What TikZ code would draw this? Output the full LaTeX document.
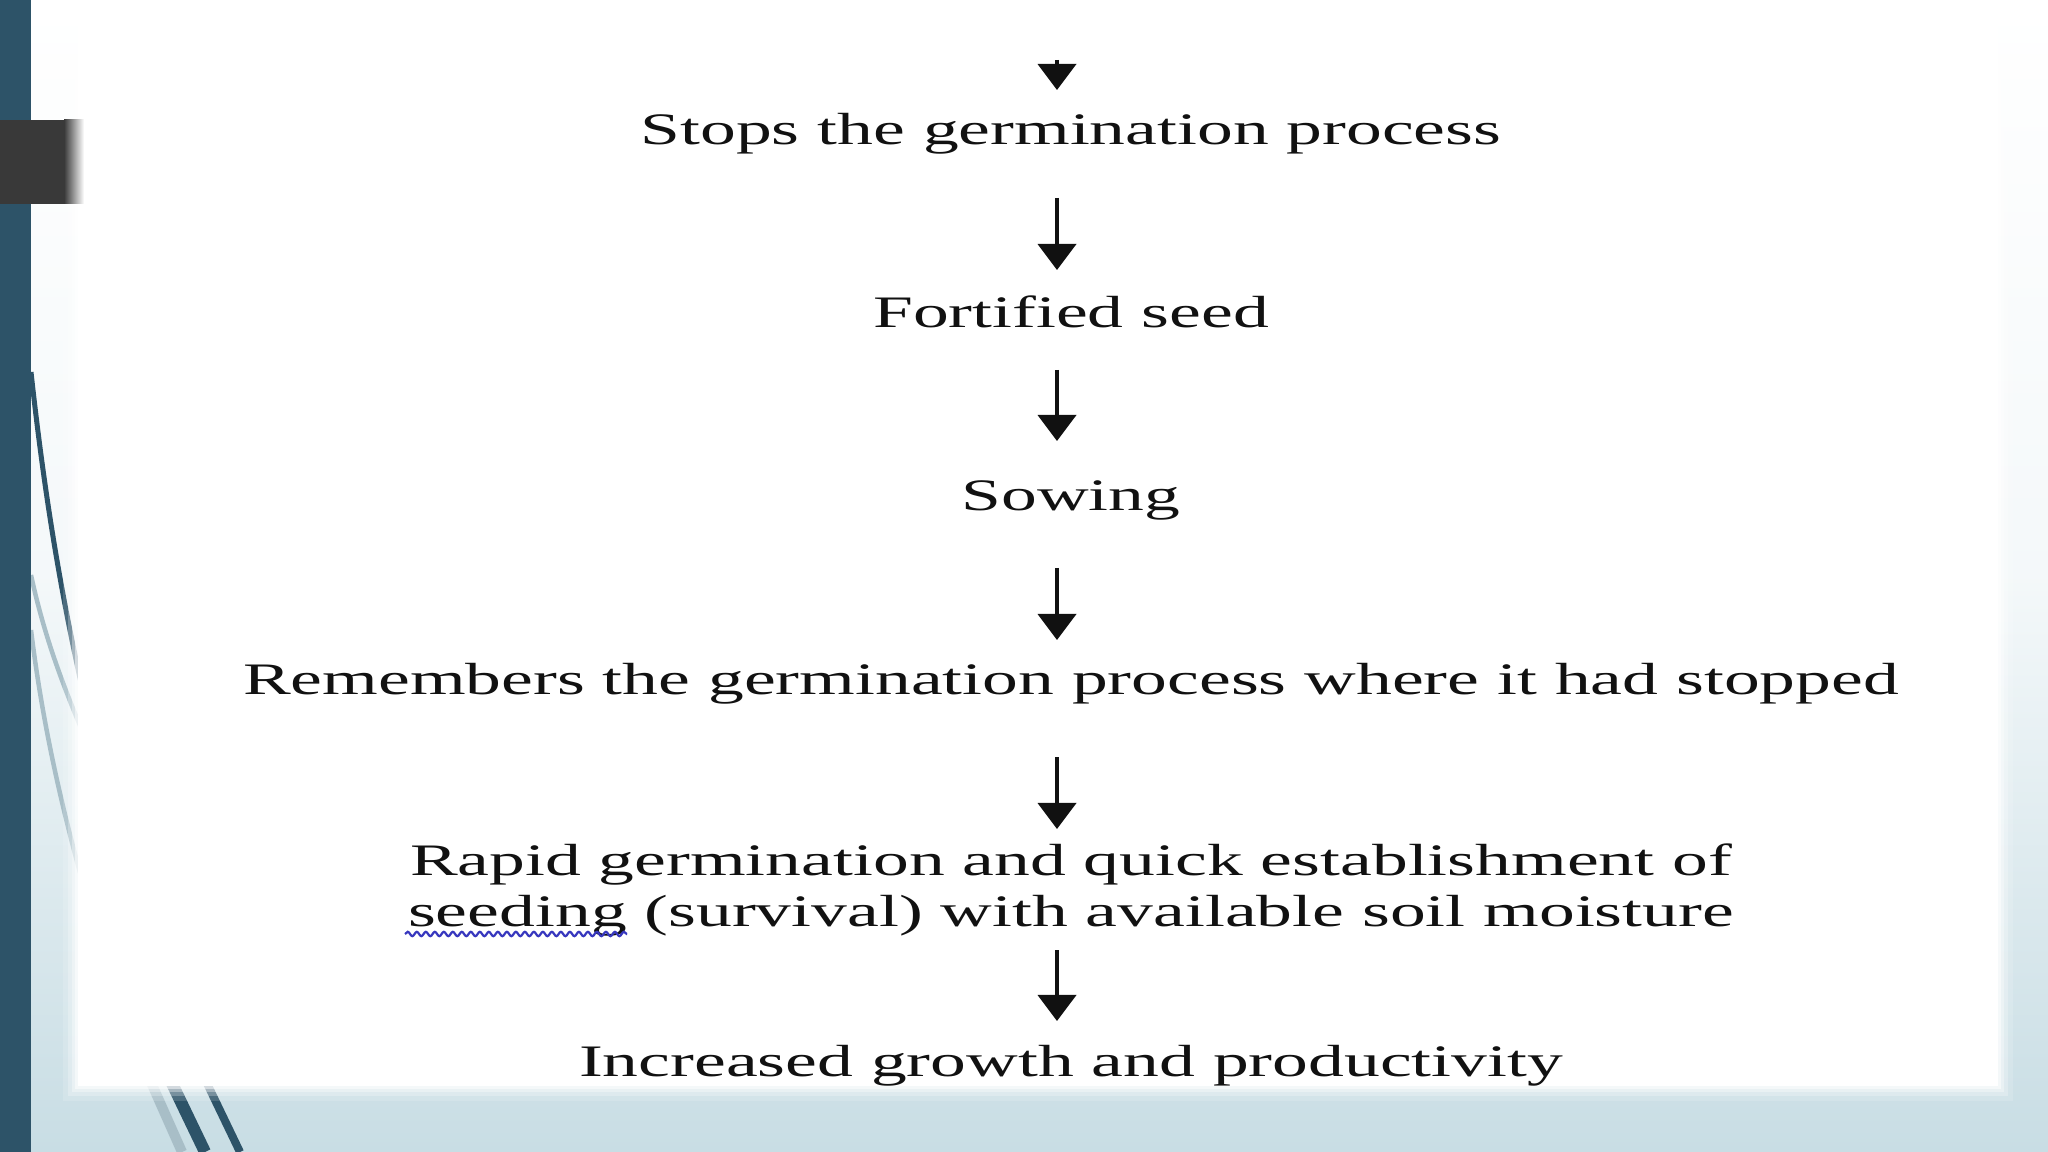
\documentclass[tikz,border=0pt]{standalone}
\usepackage{fontspec}
\setmainfont{Liberation Serif}
\usetikzlibrary{arrows.meta,calc,decorations.pathmorphing}
\definecolor{barblue}{RGB}{45,83,104}
\definecolor{bgblue}{RGB}{200,221,228}
\definecolor{darksq}{RGB}{57,57,57}
\definecolor{grayline}{RGB}{168,190,199}
\definecolor{inkc}{RGB}{17,17,17}
\definecolor{wavyblue}{RGB}{55,55,190}
\newcommand{\stretchtext}[1]{\scalebox{1.59}[1]{#1}}
\begin{document}
\begin{tikzpicture}[x=0.01cm,y=-0.01cm,
  lbl/.style={inner sep=0pt, anchor=base, text=inkc, font=\fontsize{12.8}{14.74}\selectfont},
  arr/.style={draw=inkc, line width=0.04cm, -{Triangle[width=0.38cm,length=0.26cm]}},
  darkcurve/.style={draw=barblue, line width=0.05cm},
  graycurve/.style={draw=grayline, line width=0.045cm}]
\useasboundingbox (0,0) rectangle (2048,1152);
% background
\shade[top color=white, bottom color=bgblue, middle color=white!80!bgblue] (0,0) rectangle (2048,1152);
% decorative curves on the left
\draw[darkcurve] (31,372) .. controls (45,500) and (62,600) .. (86,705);
\draw[graycurve] (31,575) .. controls (45,640) and (65,690) .. (86,740);
\draw[graycurve] (31,630) .. controls (42,720) and (60,800) .. (82,880);
% bottom strokes
\draw[draw=grayline, line width=0.1cm] (150,1080) -- (182,1152);
\draw[draw=barblue, line width=0.12cm] (168,1075) -- (205,1152);
\draw[draw=barblue, line width=0.08cm] (203,1075) -- (240,1152);
% white panel with soft edge
\foreach \w/\o in {30/0.15, 20/0.25, 12/0.35, 6/0.5}
  \draw[white, opacity=\o, line width=\w*0.01cm] (78,-40) rectangle (1998,1086);
\fill[white] (78,-40) rectangle (1998,1086);
% left bar and dark square
\fill[barblue] (0,0) rectangle (31,1152);
\fill[darksq] (0,120) rectangle (64,204);
\shade[left color=darksq, right color=white] (64,120) rectangle (84,204);
% texts
\node[lbl] (stops) at (1071,145) {\stretchtext{Stops the germination process}};
\node[lbl] (fort) at (1071,328) {\stretchtext{Fortified seed}};
\node[lbl] (sow) at (1071,511) {\stretchtext{Sowing}};
\node[lbl] (rem) at (1071,694) {\stretchtext{Remembers the germination process where it had stopped}};
\node[lbl] (rapid) at (1071,875) {\stretchtext{\begin{tabular}[t]{@{}c@{}}Rapid germination and quick establishment of\\seeding (survival) with available soil moisture\end{tabular}}};
\node[lbl] (inc) at (1071,1076) {\stretchtext{Increased growth and productivity}};
% wavy underline
\draw[wavyblue, line width=0.022cm, decorate, decoration={snake, amplitude=0.022cm, segment length=0.09cm}] (405,934) -- (627,934);
% arrows
\coordinate (ax) at (1057,0);
\coordinate (topend) at (1057,60);
\draw[arr] (topend) -- ($(stops.base -| ax)+(0,-55)$);
\draw[arr] ($(stops.base -| ax)+(0,53)$) -- ($(fort.base -| ax)+(0,-58)$);
\draw[arr] ($(fort.base -| ax)+(0,42)$) -- ($(sow.base -| ax)+(0,-70)$);
\draw[arr] ($(sow.base -| ax)+(0,57)$) -- ($(rem.base -| ax)+(0,-54)$);
\draw[arr] ($(rem.base -| ax)+(0,63)$) -- ($(rapid.base -| ax)+(0,-46)$);
\draw[arr] ($(rapid.base -| ax)+(0,75)$) -- ($(inc.base -| ax)+(0,-55)$);
\end{tikzpicture}
\end{document}
